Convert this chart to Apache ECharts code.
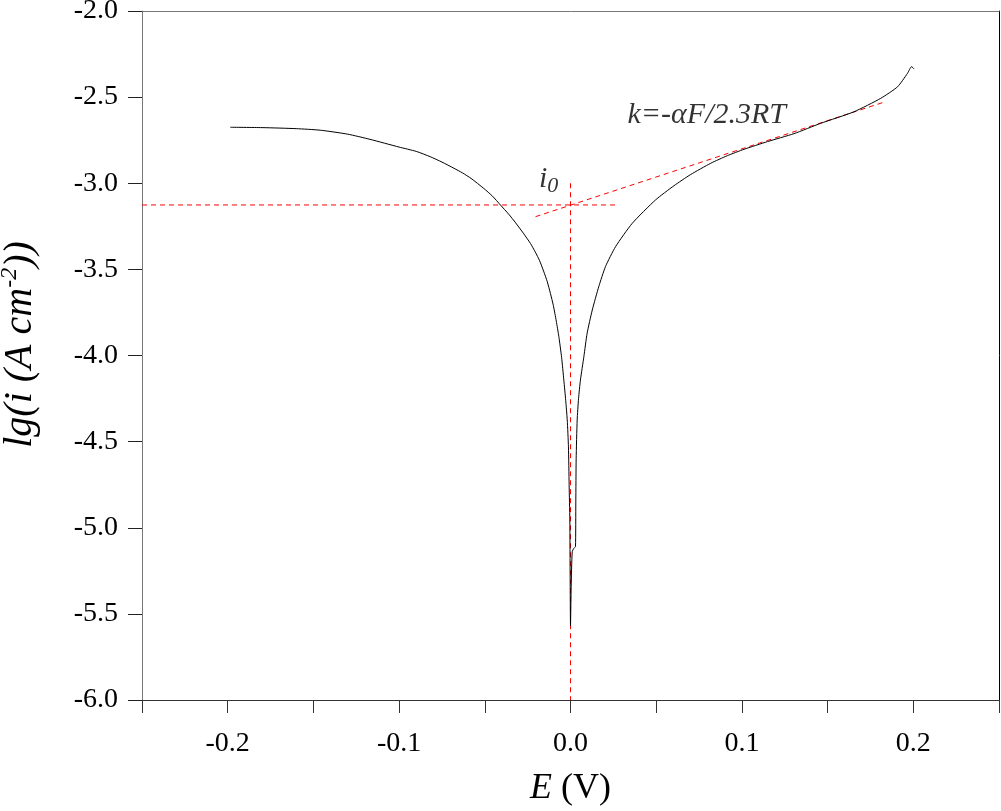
<!DOCTYPE html>
<html>
<head>
<meta charset="utf-8">
<script src="https://cdn.jsdelivr.net/npm/echarts@6/dist/echarts.min.js"></script>
<style>html,body{margin:0;padding:0;background:#fff}#c{width:1001px;height:811px}</style>
</head>
<body>
<div id="c"></div>
<script>
// Polarization curve: E (V) vs lg(i)
var curveE = [-0.1985,-0.18,-0.16,-0.146,-0.13,-0.117,-0.10,-0.09,-0.0818,-0.075,-0.068,-0.063,-0.058,-0.0506,-0.0455,-0.0409,-0.036,-0.032,-0.0275,-0.0234,-0.0205,-0.018,-0.0157,-0.0136,-0.0117,-0.010,-0.0083,-0.0068,-0.0052,-0.0039,-0.0028,-0.0019,-0.0012,-0.0008,-0.0004,-0.0002,0.0,
  0.0004,0.001,0.0019,0.0029,0.0031,0.0033,0.0039,0.0047,0.0058,0.0078,0.0097,0.0127,0.0165,0.0204,0.0263,0.036,0.0496,0.0603,0.07,0.0818,0.0915,0.1012,0.115,0.1304,0.146,0.1654,0.181,0.1908,0.1966,0.199,0.2005];
var curveLgI = [-2.675,-2.677,-2.683,-2.692,-2.715,-2.745,-2.79,-2.815,-2.846,-2.877,-2.913,-2.94,-2.972,-3.03,-3.075,-3.126,-3.18,-3.23,-3.29,-3.349,-3.40,-3.45,-3.51,-3.57,-3.64,-3.71,-3.80,-3.89,-4.01,-4.142,-4.26,-4.374,-4.53,-4.75,-4.955,-5.30,-5.57,
  -5.34,-5.14,-5.12,-5.11,-4.85,-4.60,-4.374,-4.25,-4.142,-4.007,-3.871,-3.736,-3.60,-3.484,-3.368,-3.233,-3.097,-3.015,-2.95,-2.884,-2.84,-2.803,-2.758,-2.712,-2.652,-2.585,-2.507,-2.44,-2.362,-2.323,-2.337];
var tangentE = [-0.0204, 0.182];
var tangentLgI = [-3.194, -2.532];
var hLineE = [-0.25, 0.0263];
var hLineLgI = [-3.126, -3.126];
var vLineE = [0, 0];
var vLineLgI = [-3.0, -6.0];
var xTickLabels = ['-0.2','-0.1','0.0','0.1','0.2'];

function pairs(a, b){ return a.map(function(v,i){ return [v, b[i]]; }); }

var FONT = 'Liberation Serif';
var chart = echarts.init(document.getElementById('c'));
var dashed = {color:'#ff0000', width:1, type:[5,4]};
chart.setOption({
  animation:false,
  backgroundColor:'#fff',
  grid:{left:142, right:2, top:11, bottom:111, containLabel:false, outerBoundsMode:'none'},
  xAxis:[{
    type:'value', min:-0.25, max:0.25, interval:0.05,
    axisLine:{show:true, onZero:false, lineStyle:{color:'#333', width:1}},
    axisTick:{show:true, length:13, lineStyle:{color:'#333'}},
    splitLine:{show:false},
    axisLabel:{margin:30, fontFamily:FONT, fontSize:28, color:'#000',
      formatter:function(v){
        var lbl = (Math.round(v*100)/100).toFixed(1);
        return xTickLabels.indexOf(lbl) >= 0 && Math.abs(Math.round(v*10) - v*10) < 1e-6 ? lbl : '';
      }},
    name:'{e|E} {n|(V)}', nameLocation:'middle', nameGap:71,
    nameTextStyle:{rich:{e:{fontFamily:FONT, fontStyle:'italic', fontSize:36, color:'#000'}, n:{fontFamily:FONT, fontSize:36, color:'#000'}}, fontFamily:FONT, fontSize:36}
  },{
    type:'value', position:'top', min:-0.25, max:0.25,
    axisLine:{show:true, onZero:false, lineStyle:{color:'#777', width:1}},
    axisTick:{show:false}, axisLabel:{show:false}, splitLine:{show:false}
  }],
  yAxis:[{
    type:'value', min:-6, max:-2, interval:0.5,
    axisLine:{show:true, onZero:false, lineStyle:{color:'#777', width:1}},
    axisTick:{show:true, length:14, lineStyle:{color:'#222'}},
    splitLine:{show:false},
    axisLabel:{margin:24, fontFamily:FONT, fontSize:28, color:'#000', formatter:function(v){return v.toFixed(1);}},
    name:'{t|lg(i (A cm}{s|-2}{t|))}', nameLocation:'middle', nameGap:100, nameRotate:90,
    nameTextStyle:{padding:[0,0,0,22], rich:{
      t:{fontFamily:FONT, fontStyle:'italic', fontSize:40, color:'#000', lineHeight:44},
      s:{fontFamily:FONT, fontStyle:'italic', fontSize:24, color:'#000', verticalAlign:'top', lineHeight:44}
    }}
  },{
    type:'value', position:'right', min:-6, max:-2,
    axisLine:{show:true, onZero:false, lineStyle:{color:'#000', width:1}},
    axisTick:{show:false}, axisLabel:{show:false}, splitLine:{show:false}
  }],
  series:[
    {type:'line', data:pairs(hLineE,hLineLgI), symbol:'none', lineStyle:dashed, z:2},
    {type:'line', data:pairs(vLineE,vLineLgI), symbol:'none', lineStyle:dashed, z:2},
    {type:'line', data:pairs(tangentE,tangentLgI), symbol:'none', lineStyle:dashed, z:2},
    {type:'line', data:pairs(curveE,curveLgI), symbol:'none', smooth:0.2, lineStyle:{color:'#000', width:1}, z:3},
    {type:'scatter', symbolSize:0, silent:true, z:4,
      data:[{value:[-0.0128,-2.975], label:{show:true, position:'inside',
        formatter:'{i|i}{s|0}',
        rich:{i:{fontFamily:FONT, fontStyle:'italic', fontSize:30, color:'#000', lineHeight:36},
              s:{fontFamily:FONT, fontStyle:'italic', fontSize:22, color:'#000', verticalAlign:'bottom', lineHeight:36}}}},
        {value:[0.0795,-2.604], label:{show:true, position:'inside',
        formatter:'k=-\u03B1F/2.3RT', fontFamily:FONT, fontStyle:'italic', fontSize:30, color:'#000'}}]
    }
  ]
});
</script>
</body>
</html>
